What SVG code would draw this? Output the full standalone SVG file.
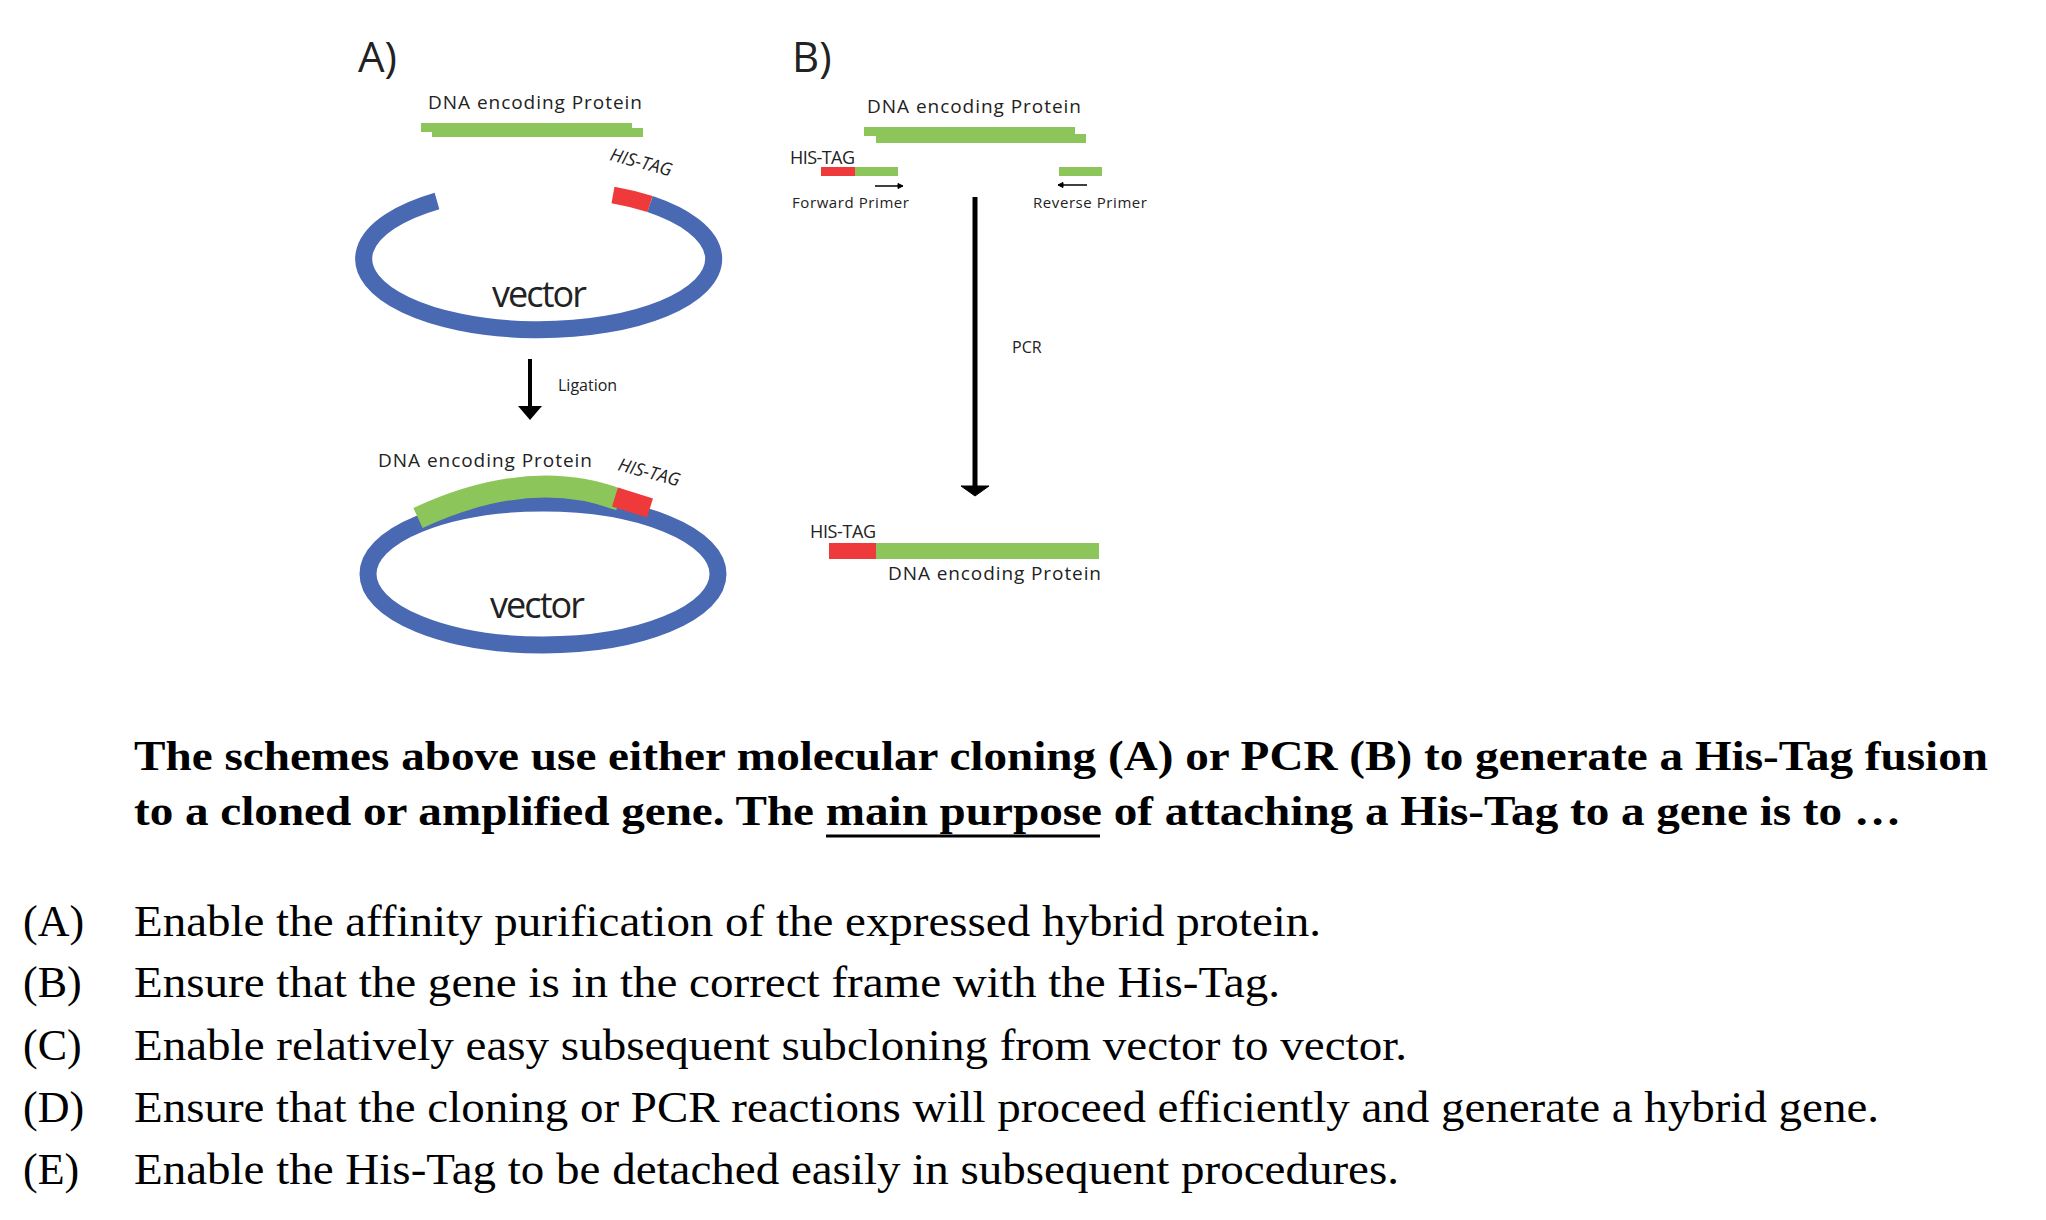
<svg xmlns="http://www.w3.org/2000/svg" width="2046" height="1220" viewBox="0 0 2046 1220">
<style>
.lab{font-family:"Open Sans","DejaVu Sans",sans-serif;fill:#222}
.q{font-family:"Liberation Serif","Times New Roman",serif;fill:#000}
.g{fill:#8cc65b}.r{fill:#ee3a3a}
.blue{fill:none;stroke:#4a69b3;stroke-width:17}
</style>
<rect width="2046" height="1220" fill="#fff"/>
<g id="panelA">
<text class="lab" x="358" y="72" font-size="42">A)</text>
<text class="lab" x="428" y="109" font-size="19" textLength="214">DNA encoding Protein</text>
<rect class="g" x="421" y="123" width="211" height="9"/><rect class="g" x="432" y="128" width="211" height="9"/>
<text class="lab" x="609" y="160" font-size="18" transform="rotate(15 609 160)" font-style="italic">HIS-TAG</text>
<path class="blue" d="M650,204 A175,71 0 1 1 437,201"/>
<path d="M613,195 A175,71 0 0 1 650,204" fill="none" stroke="#ee3a3a" stroke-width="17"/>
<text class="lab" x="492" y="307" font-size="36" textLength="95">vector</text>
<text class="lab" x="378" y="467" font-size="19" textLength="214">DNA encoding Protein</text>
<text class="lab" x="617" y="470" font-size="18" transform="rotate(15 617 470)" font-style="italic">HIS-TAG</text>
<ellipse class="blue" cx="543" cy="574" rx="175" ry="71"/>
<path d="M418,518 Q530,466 620,500" fill="none" stroke="#8cc65b" stroke-width="22"/>
<path d="M615,497 L650,508" fill="none" stroke="#ee3a3a" stroke-width="20"/>
<text class="lab" x="490" y="618" font-size="36" textLength="95">vector</text>
<text class="lab" x="558" y="391" font-size="16">Ligation</text>
</g>
<g id="panelB">
<text class="lab" x="792" y="72" font-size="42">B)</text>
<text class="lab" x="867" y="113" font-size="19" textLength="214">DNA encoding Protein</text>
<rect class="g" x="864" y="127" width="211" height="9"/><rect class="g" x="876" y="134" width="210" height="9"/>
<text class="lab" x="790" y="164" font-size="18" textLength="65">HIS-TAG</text>
<rect class="r" x="821" y="167" width="34" height="9"/><rect class="g" x="855" y="167" width="43" height="9"/>
<rect class="g" x="1059" y="167" width="43" height="9"/>
<text class="lab" x="792" y="208" font-size="15" textLength="117">Forward Primer</text>
<text class="lab" x="1033" y="208" font-size="15" textLength="114">Reverse Primer</text>
<text class="lab" x="1012" y="353" font-size="16">PCR</text>
<text class="lab" x="810" y="538" font-size="18" textLength="66">HIS-TAG</text>
<rect class="r" x="829" y="543" width="47" height="16"/><rect class="g" x="876" y="543" width="223" height="16"/>
<text class="lab" x="888" y="580" font-size="19" textLength="213">DNA encoding Protein</text>
</g>
<g id="connectors" stroke="#000">
<line x1="530" y1="359" x2="530" y2="410" stroke-width="4"/>
<path d="M518,406 L542,406 L530,420 z" stroke="none"/>
<line x1="875" y1="186" x2="903" y2="186" stroke-width="1.5"/><path d="M903,186l-5,-2.5v5z"/>
<line x1="1087" y1="185" x2="1058" y2="185" stroke-width="1.5"/><path d="M1058,185l5,-2.5v5z"/>
<line x1="975" y1="197" x2="975" y2="490" stroke-width="5"/>
<path d="M961,486 L989,486 L975,496 z"/>
</g>
<g id="question">
<text class="q" x="134" y="770" font-size="43" font-weight="bold" textLength="1854" lengthAdjust="spacingAndGlyphs">The schemes above use either molecular cloning (A) or PCR (B) to generate a His-Tag fusion</text>
<text class="q" x="134" y="825" font-size="43" font-weight="bold" textLength="1767" lengthAdjust="spacingAndGlyphs">to a cloned or amplified gene. The main purpose of attaching a His-Tag to a gene is to …</text>
<line x1="826" y1="836" x2="1100" y2="836" stroke="#000" stroke-width="3"/>
<g font-size="44">
<text class="q" x="23" y="936">(A)</text><text class="q" x="134" y="936" textLength="1187" lengthAdjust="spacingAndGlyphs">Enable the affinity purification of the expressed hybrid protein.</text>
<text class="q" x="23" y="997">(B)</text><text class="q" x="134" y="997" textLength="1146" lengthAdjust="spacingAndGlyphs">Ensure that the gene is in the correct frame with the His-Tag.</text>
<text class="q" x="23" y="1060">(C)</text><text class="q" x="134" y="1060" textLength="1273" lengthAdjust="spacingAndGlyphs">Enable relatively easy subsequent subcloning from vector to vector.</text>
<text class="q" x="23" y="1122">(D)</text><text class="q" x="134" y="1122" textLength="1745" lengthAdjust="spacingAndGlyphs">Ensure that the cloning or PCR reactions will proceed efficiently and generate a hybrid gene.</text>
<text class="q" x="23" y="1184">(E)</text><text class="q" x="134" y="1184" textLength="1265" lengthAdjust="spacingAndGlyphs">Enable the His-Tag to be detached easily in subsequent procedures.</text>
</g>
</g>
</svg>
